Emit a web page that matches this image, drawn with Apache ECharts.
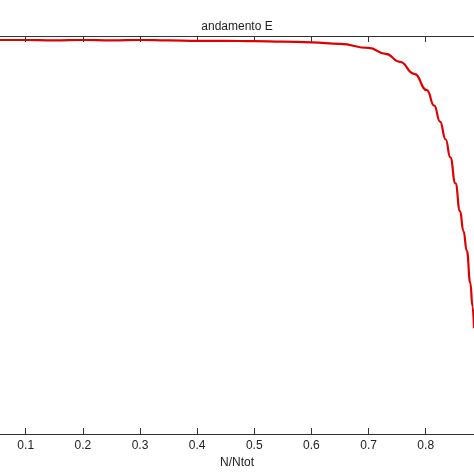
<!DOCTYPE html>
<html><head><meta charset="utf-8">
<script src="https://cdn.jsdelivr.net/npm/echarts@6/dist/echarts.min.js"></script>
<style>html,body{margin:0;padding:0;background:#fff}#c{width:474px;height:474px}</style>
</head><body><div id="c"></div>
<script>
const xValues = [0.05,0.1,0.15,0.2,0.25,0.3,0.35,0.4,0.45,0.5,0.55,0.6,0.65,0.7,0.73,0.755,0.78,0.802,0.815,0.825,0.835,0.843,0.852,0.86,0.866,0.872,0.878,0.882,0.8845];
const eValues = [0.99,0.99,0.989,0.99,0.989,0.99,0.989,0.988,0.988,0.987,0.986,0.984,0.980,0.970,0.955,0.935,0.905,0.864,0.825,0.785,0.740,0.695,0.630,0.560,0.510,0.460,0.380,0.320,0.266];
const tickValues = [0.1,0.2,0.3,0.4,0.5,0.6,0.7,0.8];
const chart = echarts.init(document.getElementById('c'));
const axCommon = {type:'value',min:0.055,max:0.8845,
  axisLine:{show:true,lineStyle:{color:'#333',width:1}},
  axisTick:{show:true,inside:true,length:6,customValues:tickValues,lineStyle:{color:'#333'}},
  splitLine:{show:false}};
chart.setOption({
  animation:false,
  title:{text:'andamento E',left:'center',top:16,textStyle:{fontSize:12,fontWeight:'normal',color:'#222',fontFamily:'Arial, Liberation Sans'}},
  grid:{left:0,right:0,top:36,bottom:40},
  xAxis:[Object.assign({},axCommon,{position:'bottom',name:'N/Ntot',nameLocation:'middle',nameGap:22,
      nameTextStyle:{fontSize:12,color:'#222',fontFamily:'Arial, Liberation Sans'},
      axisLabel:{customValues:tickValues,fontSize:12,color:'#222',margin:6,fontFamily:'Arial, Liberation Sans',formatter:v=>v.toFixed(1)}}),
    Object.assign({},axCommon,{position:'top',axisLabel:{show:false}})],
  yAxis:{type:'value',min:0,max:1,show:false},
  series:[{type:'line',data:xValues.map((x,i)=>[x,eValues[i]]),showSymbol:false,smooth:true,smoothMonotone:'x',
    lineStyle:{color:'#e00000',width:2.2}}]
});
</script></body></html>
